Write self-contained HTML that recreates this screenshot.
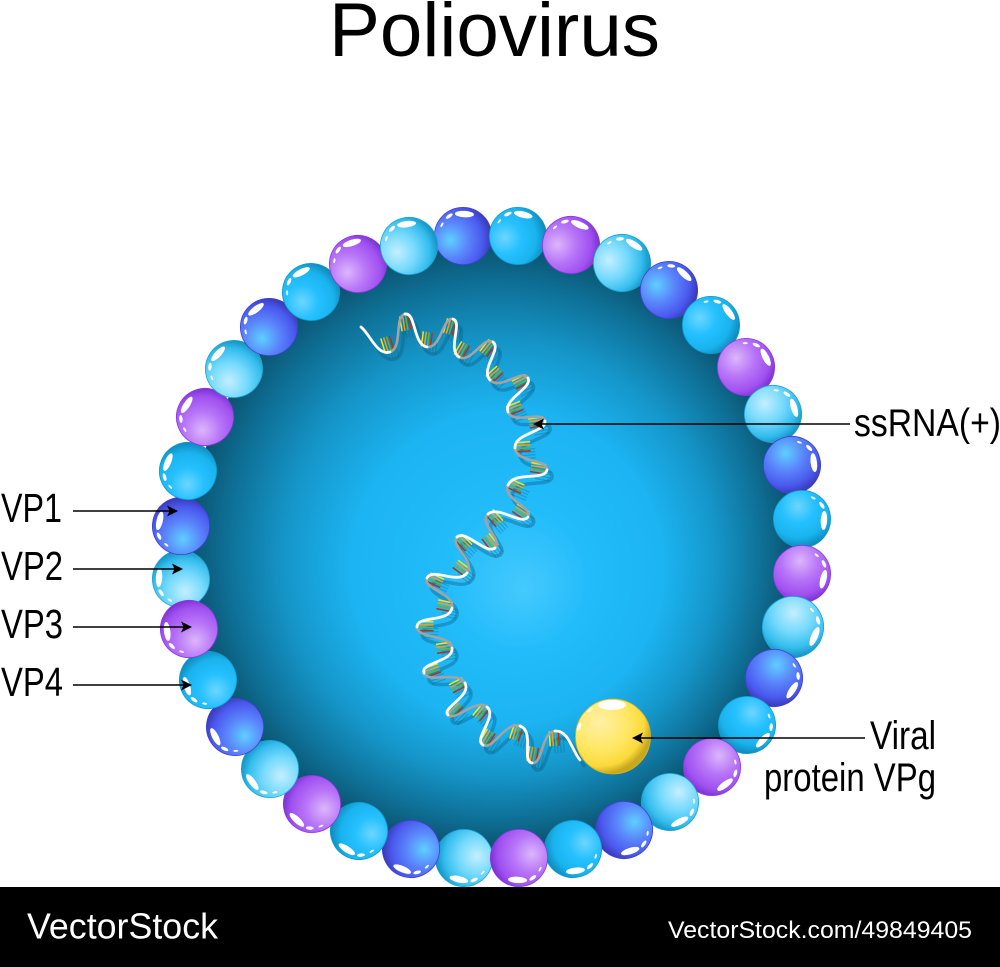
<!DOCTYPE html>
<html><head><meta charset="utf-8"><style>
html,body{margin:0;padding:0;background:#fff;width:1000px;height:967px;overflow:hidden}
svg{display:block}
text{font-family:"Liberation Sans",sans-serif;fill:#000}
</style></head><body>
<svg width="1000" height="967" viewBox="0 0 1000 967" xmlns="http://www.w3.org/2000/svg">
<defs>
<radialGradient id="bg" gradientUnits="userSpaceOnUse" cx="491" cy="547" r="300" fx="525" fy="590">
<stop offset="0" stop-color="#45c9fd"/><stop offset=".24" stop-color="#22bcfb"/><stop offset=".52" stop-color="#1cb4f2"/><stop offset=".72" stop-color="#1596c9"/><stop offset=".9" stop-color="#0e6e94"/><stop offset="1" stop-color="#0b5470"/>
</radialGradient>
<radialGradient id="gc" gradientUnits="userSpaceOnUse" cx="-13" cy="3" r="42">
<stop offset="0" stop-color="#6cd6ff"/><stop offset=".4" stop-color="#25c0ff"/><stop offset=".75" stop-color="#19b3ee"/><stop offset="1" stop-color="#0d88b8"/>
</radialGradient>
<radialGradient id="gl" gradientUnits="userSpaceOnUse" cx="-13" cy="3" r="42">
<stop offset="0" stop-color="#c4efff"/><stop offset=".45" stop-color="#74d9fc"/><stop offset=".78" stop-color="#34bdee"/><stop offset="1" stop-color="#1190c0"/>
</radialGradient>
<radialGradient id="gp" gradientUnits="userSpaceOnUse" cx="-13" cy="3" r="42">
<stop offset="0" stop-color="#dcb6fb"/><stop offset=".45" stop-color="#b774f7"/><stop offset=".8" stop-color="#a050f0"/><stop offset="1" stop-color="#7a30d0"/>
</radialGradient>
<radialGradient id="gb" gradientUnits="userSpaceOnUse" cx="-13" cy="3" r="42">
<stop offset="0" stop-color="#5fcfff"/><stop offset=".42" stop-color="#5a86fb"/><stop offset=".78" stop-color="#4a58ee"/><stop offset="1" stop-color="#3838b0"/>
</radialGradient>
<radialGradient id="gy" gradientUnits="userSpaceOnUse" cx="600" cy="722" r="52">
<stop offset="0" stop-color="#fff0a6"/><stop offset=".55" stop-color="#ffe762"/><stop offset=".85" stop-color="#fbd93a"/><stop offset="1" stop-color="#c9a820"/>
</radialGradient>
<g id="hl" fill="#fff">
<ellipse cx="3.300" cy="-21.700" rx="9.500" ry="3.200" transform="rotate(8 3.300 -21.700)"/>
<ellipse cx="-12" cy="-21" rx="4" ry="1.700" transform="rotate(-30 -12 -21)"/>
<ellipse cx="-20" cy="-13" rx="2.500" ry="1" transform="rotate(-57 -20 -13)"/>
</g>
<g id="c"><circle r="28.600" fill="url(#gc)" stroke="#1199cc" stroke-width=".8"/><use href="#hl"/></g>
<g id="l"><circle r="28.600" fill="url(#gl)" stroke="#1da4d0" stroke-width=".8"/><use href="#hl"/></g>
<g id="p"><circle r="28.600" fill="url(#gp)" stroke="#8a38e0" stroke-width=".8"/><use href="#hl"/></g>
<g id="b"><circle r="28.600" fill="url(#gb)" stroke="#4040d0" stroke-width=".8"/><use href="#hl"/></g>
<path id="rungs" fill="none" d="M382.300 345.800L393.700 342.200M400.100 324L411.900 322M421.600 338.700L433.400 340.300M444.800 325.300L456.200 328.700M457.300 347.500L467.700 353.500M483.800 344.800L493.200 352.200M491 370.600L499 379.400M518.300 377.100L523.700 387.900M512.800 403.400L517.200 414.600M535.500 417.100L537.500 428.900M522.600 441.500L523.400 453.500M539 463.100L537 474.900M517.900 481.500L513.100 492.500M523.800 507.500L517.200 517.500M498.500 514.500L489.500 522.500M494.200 538.800L484.800 546.200M467.200 538.800L458.800 547.200M464.600 564.200L457.400 573.800M437.500 575.500L432.500 586.500M445.700 600.600L443.300 612.400M426 621L426 633M443.200 642.600L444.800 654.400M430.500 665.400L434.500 676.600M455.200 680.700L460.800 691.300M450.800 705.800L459.200 714.200M476.900 709.200L486.100 716.800M482.900 734.900L493.100 741.100M511.300 731.100L522.700 734.900M527.600 753.400L539.400 755.600M549 738.900L561 738.100"/>
<path id="wave" fill="none" d="M361 327C370 334 377 356 390 352C403 348 394 316 405 314C416 312 413 345 427 347C441 349 443 316 453 319C463 322 447 350 459 357C471 364 484 335 493 342C502 349 480 369 490 380C500 391 523 368 528 378C533 388 503 399 508 412C513 425 543 410 545 421C547 432 514 433 515 448C516 463 549 459 547 470C545 481 514 471 508 485C502 499 534 508 528 517C522 526 498 505 488 514C478 523 504 541 495 548C486 555 465 529 457 537C449 545 476 561 467 573C458 585 432 567 427 578C422 589 455 593 452 608C449 623 417 615 417 627C417 639 450 634 452 648C454 662 420 662 424 673C428 684 458 670 465 683C472 696 441 708 448 715C455 722 476 698 487 707C498 716 473 739 483 745C493 751 505 721 520 726C535 731 521 761 532 763C543 765 541 732 555 731C569 730 572 751 580 760"/>
</defs>
<rect width="1000" height="967" fill="#fff"/>
<text x="329" y="56" font-size="76" textLength="331" lengthAdjust="spacingAndGlyphs">Poliovirus</text>
<circle cx="491" cy="547" r="302" fill="url(#bg)"/>

<!-- spheres -->
<use href="#b" transform="translate(463 236) rotate(-5)"/>
<use href="#c" transform="translate(518 236) rotate(5)"/>
<use href="#p" transform="translate(571 245) rotate(15)"/>
<use href="#l" transform="translate(622 263) rotate(25)"/>
<use href="#b" transform="translate(669 290) rotate(35)"/>
<use href="#c" transform="translate(711 325) rotate(45)"/>
<use href="#p" transform="translate(746 367) rotate(55)"/>
<use href="#l" transform="translate(773 414) rotate(65)"/>
<use href="#b" transform="translate(792 465) rotate(75)"/>
<use href="#c" transform="translate(802 519) rotate(85)"/>
<use href="#p" transform="translate(802 574) rotate(95)"/>
<use href="#l" transform="translate(793 627) rotate(105) scale(1.07)"/>
<use href="#b" transform="translate(774 678) rotate(115)"/>
<use href="#c" transform="translate(747 725) rotate(125)"/>
<use href="#p" transform="translate(712 767) rotate(135)"/>
<use href="#l" transform="translate(670 802) rotate(145)"/>
<use href="#b" transform="translate(624 830) rotate(155)"/>
<use href="#c" transform="translate(573 849) rotate(165)"/>
<use href="#l" transform="translate(464 858) rotate(185)"/>
<use href="#p" transform="translate(519 858) rotate(175)"/>
<use href="#b" transform="translate(411 849) rotate(195)"/>
<use href="#c" transform="translate(359 831) rotate(205)"/>
<use href="#p" transform="translate(312 804) rotate(215)"/>
<use href="#l" transform="translate(270 769) rotate(225)"/>
<use href="#b" transform="translate(235 727) rotate(235)"/>
<use href="#c" transform="translate(208 680) rotate(245)"/>
<use href="#l" transform="translate(181 579) rotate(265)"/>
<use href="#p" transform="translate(189 629) rotate(255)"/>
<use href="#b" transform="translate(181 526) rotate(275)"/>
<use href="#c" transform="translate(188 471) rotate(285)"/>
<use href="#p" transform="translate(205 417) rotate(295)"/>
<use href="#l" transform="translate(234 369) rotate(305)"/>
<use href="#b" transform="translate(269 327) rotate(315)"/>
<use href="#c" transform="translate(311 292) rotate(325)"/>
<use href="#p" transform="translate(358 264) rotate(335)"/>
<use href="#l" transform="translate(409 246) rotate(345)"/>

<!-- RNA -->
<use href="#wave" stroke="#0a5f85" stroke-opacity=".4" stroke-width="3.500" transform="translate(5 7)"/>
<use href="#rungs" stroke="#0a5f85" stroke-opacity=".3" stroke-width="15" stroke-dasharray="1.400 1.600" transform="translate(5 7)"/>
<use href="#rungs" stroke="#ffe600" stroke-width="15" stroke-dasharray="1.500 10.500" stroke-dashoffset="0"/>
<use href="#rungs" stroke="#f59a23" stroke-width="15" stroke-dasharray="1.500 10.500" stroke-dashoffset="-3"/>
<use href="#rungs" stroke="#6ab32e" stroke-width="15" stroke-dasharray="1.500 10.500" stroke-dashoffset="-6"/>
<use href="#rungs" stroke="#b5301c" stroke-width="15" stroke-dasharray="1.500 10.500" stroke-dashoffset="-9"/>
<g fill="none" stroke="#a3a3a3" stroke-width="2.600" stroke-linecap="round">
<path d="M390 352C403 348 394 316 405 314M427 347C441 349 443 316 453 319M459 357C471 364 484 335 493 342M490 380C500 391 523 368 528 378M508 412C513 425 543 410 545 421M515 448C516 463 549 459 547 470M508 485C502 499 534 508 528 517M488 514C478 523 504 541 495 548M457 537C449 545 476 561 467 573M427 578C422 589 455 593 452 608M417 627C417 639 450 634 452 648M424 673C428 684 458 670 465 683M448 715C455 722 476 698 487 707M483 745C493 751 505 721 520 726M532 763C543 765 541 732 555 731"/>
</g>
<g fill="none" stroke="#fff" stroke-width="2.800" stroke-linecap="round">
<path d="M361 327C370 334 377 356 390 352M405 314C416 312 413 345 427 347M453 319C463 322 447 350 459 357M493 342C502 349 480 369 490 380M528 378C533 388 503 399 508 412M545 421C547 432 514 433 515 448M547 470C545 481 514 471 508 485M528 517C522 526 498 505 488 514M495 548C486 555 465 529 457 537M467 573C458 585 432 567 427 578M452 608C449 623 417 615 417 627M452 648C454 662 420 662 424 673M465 683C472 696 441 708 448 715M487 707C498 716 473 739 483 745M520 726C535 731 521 761 532 763M555 731C569 730 572 751 580 760"/>
</g>

<!-- VPg -->
<circle cx="613" cy="736.500" r="37.500" fill="url(#gy)" stroke="#d9b428" stroke-width=".8"/>
<ellipse cx="612" cy="705" rx="14" ry="5" fill="#fff"/>
<ellipse cx="579" cy="727" rx="1.800" ry="4.500" fill="#fff" transform="rotate(25 579 727)"/>
<ellipse cx="590" cy="710" rx="1.500" ry="3.500" fill="#fff" fill-opacity=".7" transform="rotate(45 590 710)"/>

<!-- connectors -->
<g stroke="#000" stroke-width="1.500">
<line x1="73" y1="511" x2="172" y2="511"/>
<line x1="73" y1="569" x2="176" y2="569"/>
<line x1="73" y1="627" x2="186" y2="627"/>
<line x1="73" y1="685" x2="186" y2="685"/>
<line x1="540" y1="424" x2="850" y2="424"/>
<line x1="640" y1="738" x2="865" y2="738"/>
</g>
<g fill="#000">
<path d="M178 511L167 505.500L169.500 511L167 516.500Z"/>
<path d="M183 569L172 563.500L174.500 569L172 574.500Z"/>
<path d="M192 627L181 621.500L183.500 627L181 632.500Z"/>
<path d="M192 685L181 679.500L183.500 685L181 690.500Z"/>
<path d="M533 424L544 418.500L541.500 424L544 429.500Z"/>
<path d="M632 738L643 732.500L640.500 738L643 743.500Z"/>
</g>

<!-- labels -->
<text x="1" y="522" font-size="41" textLength="61" lengthAdjust="spacingAndGlyphs">VP1</text>
<text x="1" y="580" font-size="41" textLength="62" lengthAdjust="spacingAndGlyphs">VP2</text>
<text x="1" y="638" font-size="41" textLength="62" lengthAdjust="spacingAndGlyphs">VP3</text>
<text x="1" y="696" font-size="41" textLength="62" lengthAdjust="spacingAndGlyphs">VP4</text>
<text x="854" y="436" font-size="39" textLength="147" lengthAdjust="spacingAndGlyphs">ssRNA(+)</text>
<text x="870" y="749" font-size="40" textLength="66" lengthAdjust="spacingAndGlyphs">Viral</text>
<text x="764" y="791" font-size="40" textLength="172" lengthAdjust="spacingAndGlyphs">protein VPg</text>

<!-- footer -->
<rect x="0" y="887" width="1000" height="80" fill="#000"/>
<text x="27" y="938.500" font-size="36" textLength="191" lengthAdjust="spacingAndGlyphs" style="fill:#fff">VectorStock</text>
<text x="668" y="938" font-size="24" textLength="304" lengthAdjust="spacingAndGlyphs" style="fill:#fff">VectorStock.com/49849405</text>
</svg>
</body></html>
